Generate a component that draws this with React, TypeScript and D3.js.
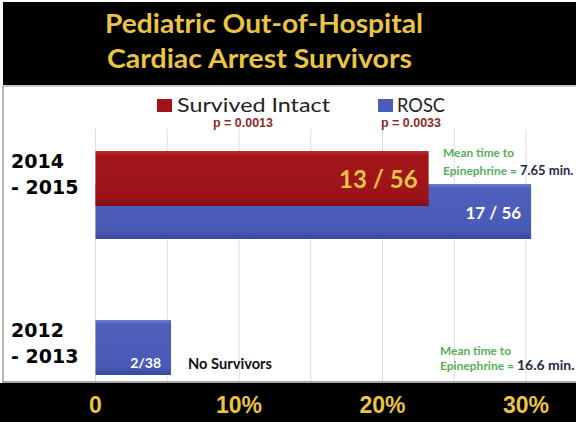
import * as d3 from 'd3'

const categories = ['2014 - 2015', '2012 - 2013']
const yearLines = [['2014', '- 2015'], ['2012', '- 2013']]
const seriesNames = ['Survived Intact', 'ROSC']
const intactCounts = [13, 0]
const roscCounts = [17, 2]
const totals = [56, 38]
const intactLabels = ['13 / 56', '']
const roscLabels = ['17 / 56', '2/38']
const pValues = ['p = 0.0013', 'p = 0.0033']
const epiTimes = ['7.65 min.', '16.6 min.']
const xTicks = [0, 0.1, 0.2, 0.3]
const gridTicks = [0, 0.05, 0.1, 0.15, 0.2, 0.25, 0.3]

const W = 576
const H = 422
const GOLD = '#e9c445'
const RED = '#9e1419'
const BLUE = '#4b5cb8'
const GREEN = '#58ad58'
const CAL = 'Lato, "Open Sans", sans-serif'

export default function App() {
  const x = d3.scaleLinear().domain([0, 0.3]).range([95.5, 526])
  const y = d3.scalePoint<string>().domain(categories).range([195, 331])
  const sub = d3.scalePoint<string>().domain(seriesNames).range([-16.5, 16.5])
  const barH = 55
  const gridTop = 129
  const plotBottom = 383

  const tickFmt = (v: number) => (v === 0 ? '0' : d3.format('.0%')(v))

  return (
    <svg width={W} height={H} style={{ position: 'absolute', left: 0, top: 0 }}>
      <defs>
        <linearGradient id="redG" x1="0" y1="0" x2="0" y2="1">
          <stop offset="0" stopColor="#c62a2f" />
          <stop offset="0.08" stopColor="#a3161b" />
          <stop offset="0.85" stopColor="#9b1318" />
          <stop offset="1" stopColor="#7e0f12" />
        </linearGradient>
        <linearGradient id="blueG" x1="0" y1="0" x2="0" y2="1">
          <stop offset="0" stopColor="#6a7ad0" />
          <stop offset="0.08" stopColor="#4f60bc" />
          <stop offset="0.85" stopColor="#4a5ab6" />
          <stop offset="1" stopColor="#3a4898" />
        </linearGradient>
      </defs>
      <rect x={0} y={0} width={W} height={H} fill="#fff" />

      {/* title band */}
      <rect x={3} y={2} width={W - 3} height={83} fill="#000" />
      <text x={105} y={33} fill={GOLD} fontFamily={CAL} fontWeight={700} fontSize={27}
        textLength={318} lengthAdjust="spacingAndGlyphs">Pediatric Out-of-Hospital</text>
      <text x={107} y={68} fill={GOLD} fontFamily={CAL} fontWeight={700} fontSize={27}
        textLength={305} lengthAdjust="spacingAndGlyphs">Cardiac Arrest Survivors</text>

      {/* frame lines */}
      <line x1={3} x2={W} y1={86} y2={86} stroke="#b5b5b5" strokeWidth={1.5} />
      <line x1={3} x2={3} y1={86} y2={plotBottom} stroke="#b5b5b5" strokeWidth={2} />

      {/* gridlines */}
      {gridTicks.map(t => (
        <line key={t} x1={x(t)} x2={x(t)} y1={gridTop} y2={plotBottom} stroke="#dcdcdc" strokeWidth={1} />
      ))}

      {/* legend */}
      <rect x={157} y={99} width={15} height={13} fill={RED} />
      <text x={177} y={112} fontFamily={CAL} fontSize={19} fill="#222" textLength={153}
        lengthAdjust="spacingAndGlyphs">{seriesNames[0]}</text>
      <rect x={378} y={99} width={15} height={13} fill={BLUE} />
      <text x={397} y={112} fontFamily={CAL} fontSize={19} fill="#222" textLength={48}
        lengthAdjust="spacingAndGlyphs">{seriesNames[1]}</text>
      <text x={243} y={127} textAnchor="middle" fontFamily="Liberation Sans, Arial, sans-serif" fontWeight={700}
        fontSize={12} fill="#8a2b2b" textLength={60} lengthAdjust="spacingAndGlyphs">{pValues[0]}</text>
      <text x={411} y={127} textAnchor="middle" fontFamily="Liberation Sans, Arial, sans-serif" fontWeight={700}
        fontSize={12} fill="#8a2b2b" textLength={60} lengthAdjust="spacingAndGlyphs">{pValues[1]}</text>

      {/* bars: ROSC behind, Survived Intact in front */}
      {categories.map((c, i) => {
        const v = roscCounts[i] / totals[i]
        const top = (y(c) as number) + (sub('ROSC') as number) - barH / 2
        return (
          <g key={'r' + c}>
            <rect x={x(0)} y={top} width={x(v) - x(0)} height={barH} fill="url(#blueG)" />
            <text x={x(v) - 10} y={top + (i === 0 ? 35 : 48)} textAnchor="end" fontFamily={CAL} fontWeight={700}
              fontSize={i === 0 ? 17 : 14} fill="#fff">{roscLabels[i]}</text>
          </g>
        )
      })}
      {categories.map((c, i) => {
        const v = intactCounts[i] / totals[i]
        if (v <= 0) return null
        const top = (y(c) as number) + (sub('Survived Intact') as number) - barH / 2
        return (
          <g key={'s' + c}>
            <rect x={x(0)} y={top} width={x(v) - x(0)} height={barH} fill="url(#redG)" />
            <text x={x(v) - 11} y={top + 37} textAnchor="end" fontFamily={CAL} fontWeight={700}
              fontSize={24} fill={GOLD}>{intactLabels[i]}</text>
          </g>
        )
      })}

      {/* no survivors note */}
      <text x={188} y={369} fontFamily={CAL} fontWeight={700} fontSize={16} fill="#111"
        textLength={84} lengthAdjust="spacingAndGlyphs">No Survivors</text>

      {/* mean time annotations */}
      {categories.map((c, i) => {
        const base = i === 0 ? 157 : 355
        const gap = i === 0 ? 18 : 15
        return (
          <g key={'m' + c} fontFamily={CAL} fontWeight={700} fontSize={12}>
            <text x={i === 0 ? 443 : 440} y={base} fill={GREEN} textLength={71} lengthAdjust="spacingAndGlyphs">Mean time to</text>
            <text x={i === 0 ? 443 : 440} y={base + gap} fill={GREEN}>
              Epinephrine = <tspan fill="#1e2a44" fontSize={i === 0 ? 13 : 14}>{epiTimes[i]}</tspan>
            </text>
          </g>
        )
      })}

      {/* year labels */}
      {categories.map((c, i) => {
        const cy = (y(c) as number)
        const base = i === 0 ? cy - 27 : cy + 6
        return (
          <g key={'y' + c} fontFamily="DejaVu Sans, sans-serif" fontWeight={700} fontSize={19} fill="#000">
            <text x={11} y={base}>{yearLines[i][0]}</text>
            <text x={11} y={base + 26}>{yearLines[i][1]}</text>
          </g>
        )
      })}

      {/* axis band */}
      <line x1={3} x2={W} y1={plotBottom - 1} y2={plotBottom - 1} stroke="#8a8a8a" strokeWidth={1.5} />
      <rect x={0} y={plotBottom} width={W} height={H - plotBottom} fill="#000" />
      {xTicks.map(t => (
        <text key={t} x={x(t)} y={413} textAnchor="middle" fill={GOLD}
          fontFamily='"Liberation Sans Narrow", "Arial Narrow", sans-serif' fontWeight={700} fontSize={23}>
          {tickFmt(t)}
        </text>
      ))}
    </svg>
  )
}
